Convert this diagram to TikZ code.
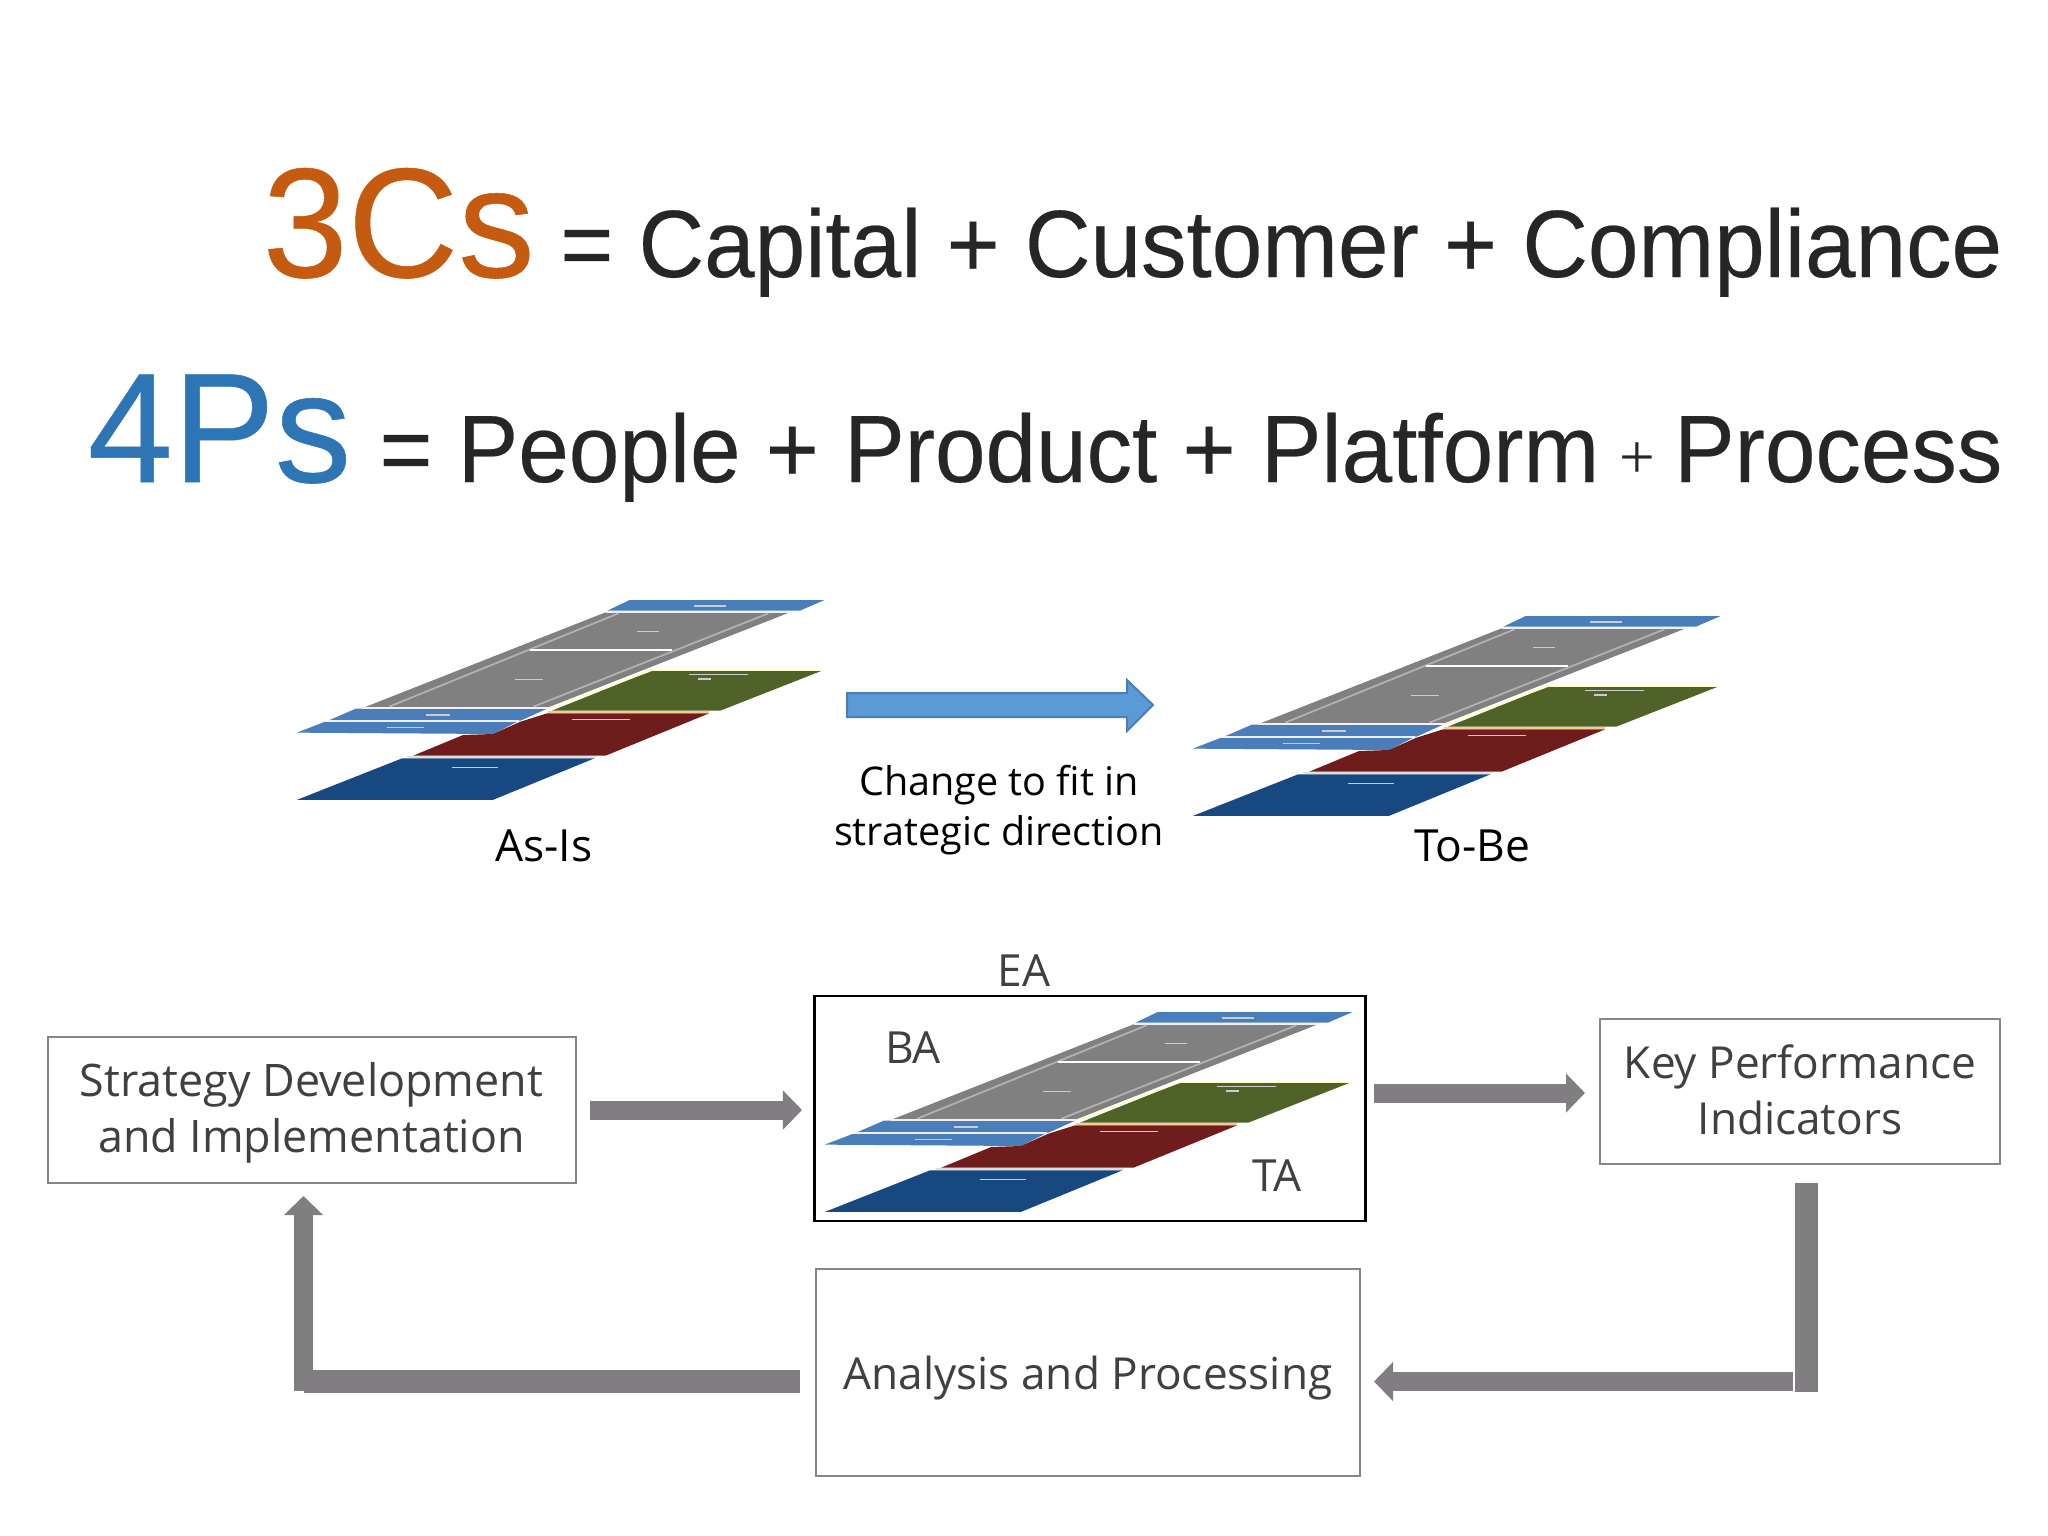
\documentclass[tikz,border=0pt]{standalone}
\usepackage{fontspec}
\setmainfont{Open Sans}
\newfontfamily\headfont[FakeStretch=0.95,FakeBold=0.25]{Liberation Sans}
\newfontfamily\bigfont[FakeStretch=0.98,FakeBold=0.35]{Liberation Sans}
\newfontfamily\plusfont{Liberation Serif}
\usetikzlibrary{arrows.meta}
\definecolor{ink}{HTML}{262626}
\definecolor{greyink}{HTML}{404040}
\definecolor{orangeC}{HTML}{C55A11}
\definecolor{blueP}{HTML}{2E75B6}
\definecolor{arrowgrey}{HTML}{807E81}
\definecolor{boxgrey}{HTML}{85858A}
\definecolor{layerblue}{HTML}{4A7EBB}
\definecolor{layergrey}{HTML}{808080}
\definecolor{layergreen}{HTML}{4F6228}
\definecolor{layerred}{HTML}{6E1C1C}
\definecolor{layernavy}{HTML}{17487F}
\definecolor{arrowblue}{HTML}{5B9BD5}
\tikzset{
  bighead/.style={font=\bigfont\fontsize{44.4}{44.4}\selectfont,inner sep=0pt},
  headline/.style={font=\headfont\fontsize{27.2}{27.2}\selectfont,text=ink,inner sep=0pt},
  caption/.style={font=\fontsize{11.25}{11.25}\selectfont,text=black,inner sep=0pt,anchor=base},
  captionbig/.style={font=\fontsize{12.6}{12.6}\selectfont,text=black,inner sep=0pt,anchor=base},
  boxtext/.style={font=\fontsize{12.75}{16}\selectfont,text=greyink,inner sep=0pt,align=center},
  boxtextsmall/.style={font=\fontsize{12.55}{16}\selectfont,text=greyink,inner sep=0pt,align=center},
  layerlabel/.style={font=\fontsize{12.6}{12.6}\selectfont,text=greyink,inner sep=0pt},
  greybox/.style={draw=boxgrey,line width=0.2mm,fill=none,inner sep=0pt},
  blockarrow/.style={draw=arrowgrey,line width=#1,-{Triangle[length=0.19cm,width=0.38cm,fill=arrowgrey]}},
  blockbar/.style={draw=arrowgrey,line width=#1},
  tinymark/.style={line width=0.35pt,draw=white!60!gray},
  softline/.style={draw=white!40!gray,line width=0.5pt},
  whiteline/.style={draw=white!88!gray,line width=0.5pt},
}
\newcommand{\layerstack}[2]{%
\begin{scope}[shift={(#1,#2)},xscale=0.37,yscale=0.3333]
  \fill[layerblue] (885,92) -- (945,60) -- (1472,60) -- (1405,92) -- cycle;
  \fill[layergrey] (228,382) -- (880,97) -- (1378,97) -- (725,382) -- cycle;
  \draw[whiteline] (880,96) -- (1380,96);
  \draw[softline] (295,380) -- (915,100);
  \draw[softline] (685,380) -- (1320,100);
  \draw[white,line width=0.8pt] (675,210) -- (1060,210);
  \fill[layerblue] (130,422) -- (205,386) -- (722,386) -- (650,422) -- cycle;
  \fill[layerblue] (45,458) -- (120,426) -- (640,426) -- (575,462) -- cycle;
  \draw[whiteline] (225,384) -- (725,384);
  \draw[whiteline] (130,424) -- (645,424);
  \fill[layergreen] (735,392) -- (1005,272) -- (1465,272) -- (1190,392) -- cycle;
  \draw[yellow!25!white,line width=0.4pt] (1005,271) -- (1465,271);
  \draw[yellow!25!white,line width=0.4pt] (728,384) -- (1005,271);
  \fill[layerred] (360,527) -- (495,465) -- (575,462) -- (650,425) -- (722,400) -- (1160,400) -- (880,527) -- cycle;
  \draw[orange!45!white,line width=0.5pt] (725,397) -- (1160,397);
  \fill[layernavy] (45,660) -- (330,535) -- (850,535) -- (575,660) -- cycle;
  \draw[white!75!gray,line width=0.5pt] (345,532) -- (855,532);
  \draw[tinymark] (1120,78) -- (1205,78);
  \draw[tinymark] (965,155) -- (1025,155);
  \draw[tinymark] (635,298) -- (710,298);
  \draw[tinymark] (395,405) -- (460,405);
  \draw[tinymark] (290,443) -- (390,443);
  \draw[tinymark] (1105,284) -- (1265,284);
  \draw[tinymark] (1130,297) -- (1165,297);
  \draw[tinymark] (790,418) -- (945,418);
  \draw[tinymark] (465,563) -- (590,563);
\end{scope}}
\begin{document}
\begin{tikzpicture}[x=0.01cm,y=-0.01cm]
\useasboundingbox (0,0) rectangle (2048,1536);
\fill[white] (0,0) rectangle (2048,1536);
% headline rows
\node[bighead,text=orangeC,anchor=base west] (threeC) at (262,277) {3Cs};
\node[headline,anchor=base east] (threeCtext) at (2003,277) {= Capital + Customer + Compliance};
\node[bighead,text=blueP,anchor=base west] (fourP) at (87,482) {4Ps};
\node[headline,anchor=base east] (fourPproc) at (2003,482) {Process};
\node[font=\plusfont\fontsize{18}{18}\selectfont,text=ink,inner sep=0pt,anchor=base] (plus) at (1637,478) {+};
\node[headline,anchor=base east] (fourPtext) at (1600,482) {= People + Product + Platform};
% layer stacks
\layerstack{280}{580}
\layerstack{1176}{596}
\layerstack{808}{992}
% change arrow
\coordinate (chgA) at (847,705);
\coordinate (chgB) at (1153,705);
\draw[draw=layerblue,line width=0.2mm,fill=arrowblue]
  (847,693) -- (1127,693) -- (1127,680) -- (1153,705) -- (1127,731) -- (1127,717) -- (847,717) -- cycle;
\node[captionbig] (asis) at (544,861) {As-Is};
\node[captionbig] (tobe) at (1472,861) {To-Be};
\node[caption] (chg1) at (999,795) {Change to fit in};
\node[caption] (chg2) at (999,845) {strategic direction};
% flow boxes
\node[greybox,minimum width=5.28cm,minimum height=1.45cm] (strat) at (312,1110) {};
\node[boxtext] at (311.5,1113) {Strategy Development\\and Implementation};
\node[draw=black,line width=0.25mm,minimum width=5.51cm,minimum height=2.25cm,inner sep=0pt] (ea) at (1090,1108.5) {};
\node[greybox,minimum width=4.00cm,minimum height=1.45cm] (kpi) at (1800,1091.5) {};
\node[boxtextsmall] at (1800,1090) {Key Performance\\Indicators};
\node[greybox,minimum width=5.44cm,minimum height=2.07cm] (ana) at (1088,1372.5) {};
\node[boxtextsmall] at (1088,1378) {Analysis and Processing};
\node[layerlabel] (ealabel) at (1024,971) {EA};
\node[layerlabel] (balabel) at (913,1048) {BA};
\node[layerlabel] (talabel) at (1277,1176) {TA};
% flow connectors
\coordinate (a1s) at (590,1110);
\coordinate (a1e) at (802,1110);
\draw[blockarrow=0.19cm] (a1s) -- (a1e);
\coordinate (a2s) at (1374,1093);
\coordinate (a2e) at (1585,1093);
\draw[blockarrow=0.19cm] (a2s) -- (a2e);
\coordinate (a3s) at (1806.5,1183);
\coordinate (a3c) at (1806.5,1392);
\draw[blockbar=0.23cm] (a3s) -- (a3c);
\coordinate (a4s) at (1793,1381.5);
\coordinate (a4e) at (1374,1381.5);
\draw[blockarrow=0.19cm] (a4s) -- (a4e);
\coordinate (a5s) at (800,1381.5);
\coordinate (a5c) at (304,1381.5);
\draw[blockbar=0.23cm] (a5s) -- (a5c);
\coordinate (a6s) at (303.5,1391);
\coordinate (a6e) at (303.5,1196);
\draw[blockarrow=0.19cm] (a6s) -- (a6e);
\end{tikzpicture}
\end{document}
